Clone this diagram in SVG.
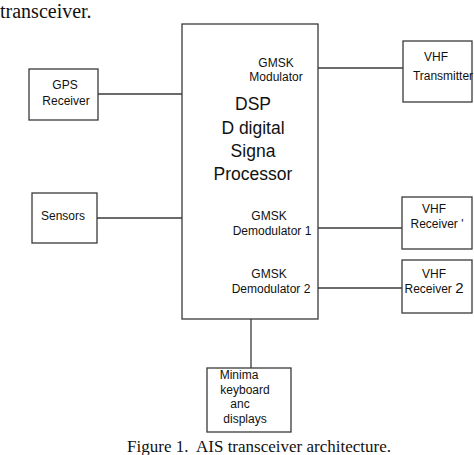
<svg xmlns="http://www.w3.org/2000/svg" width="474" height="455" viewBox="0 0 474 455">
<style>
.box{fill:#fff;stroke:#3a3a3a;stroke-width:1.3}
.ln{stroke:#3a3a3a;stroke-width:1.3;fill:none}
.t{font-family:"Liberation Sans",Arial,sans-serif;font-size:12px;fill:#111;text-anchor:middle}
.big{font-family:"Liberation Sans",Arial,sans-serif;font-size:17.5px;fill:#111;text-anchor:middle}
.cap{font-family:"Liberation Serif","Times New Roman",serif;fill:#111}
</style>
<rect width="474" height="455" fill="#fff"/>
<text class="cap" x="0" y="18" font-size="20">transceiver.</text>
<g id="connectors">
<line class="ln" x1="98" y1="94" x2="182" y2="94"/>
<line class="ln" x1="97" y1="218" x2="182" y2="218"/>
<line class="ln" x1="318" y1="68" x2="403" y2="68"/>
<line class="ln" x1="318" y1="228" x2="402" y2="228"/>
<line class="ln" x1="318" y1="288" x2="402" y2="288"/>
<line class="ln" x1="251" y1="319" x2="251" y2="368"/>
</g>
<g id="dsp">
<rect class="box" x="182" y="24" width="136" height="295"/>
<text class="t" x="276" y="67">GMSK</text>
<text class="t" x="276" y="81">Modulator</text>
<text class="big" x="253" y="110">DSP</text>
<text class="big" x="253" y="134">D digital</text>
<text class="big" x="253" y="157">Signa</text>
<text class="big" x="253" y="180">Processor</text>
<text class="t" x="269" y="220">GMSK</text>
<text class="t" x="272" y="235">Demodulator 1</text>
<text class="t" x="269" y="278">GMSK</text>
<text class="t" x="271" y="293">Demodulator 2</text>
</g>
<g id="gps">
<rect class="box" x="29" y="69" width="69" height="51"/>
<text class="t" x="65" y="89">GPS</text>
<text class="t" x="66" y="105">Receiver</text>
</g>
<g id="sensors">
<rect class="box" x="32" y="193" width="65" height="50"/>
<text class="t" x="63" y="220">Sensors</text>
</g>
<g id="vhf-tx">
<rect class="box" x="403" y="41" width="69" height="61"/>
<text class="t" x="436" y="61">VHF</text>
<text class="t" x="443" y="80" font-size="10">Transmitter</text>
</g>
<g id="vhf-rx1">
<rect class="box" x="402" y="197" width="70" height="52"/>
<text class="t" x="434" y="213">VHF</text>
<text class="t" x="437" y="228">Receiver '</text>
</g>
<g id="vhf-rx2">
<rect class="box" x="402" y="260" width="70" height="53"/>
<text class="t" x="434" y="278">VHF</text>
<text class="t" x="434" y="293">Receiver <tspan font-size="15">2</tspan></text>
</g>
<g id="keyboard">
<rect class="box" x="207" y="368" width="84" height="64"/>
<text class="t" x="239" y="379">Minima</text>
<text class="t" x="245" y="394">keyboard</text>
<text class="t" x="240" y="408">anc</text>
<text class="t" x="245" y="423">displays</text>
</g>
<text class="cap" x="259" y="452" font-size="17" text-anchor="middle" xml:space="preserve">Figure 1.  AIS transceiver architecture.</text>
</svg>
